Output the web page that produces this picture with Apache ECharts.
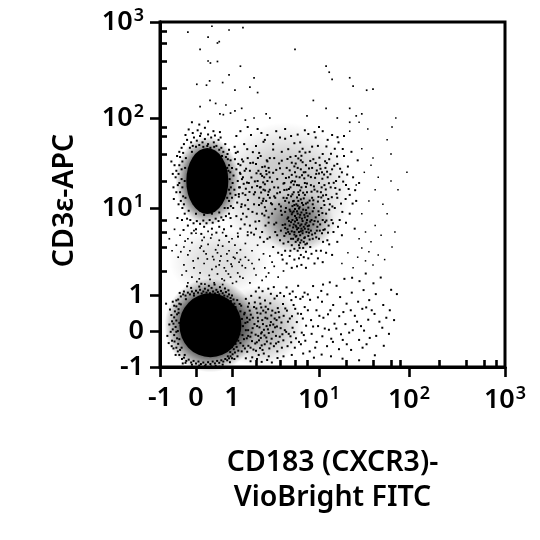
<!DOCTYPE html>
<html><head><meta charset="utf-8">
<style>html,body{margin:0;background:#fff}#c{width:540px;height:540px}</style>
<script src="https://cdn.jsdelivr.net/npm/echarts@6/dist/echarts.min.js"></script></head>
<body><div id="c"></div>
<script>
const xTitle = "CD183 (CXCR3)-\nVioBright FITC";
const yTitle = "CD3ε-APC";
const majorTicks = [-1,0,1,10,100,1000];
const minorTicks = [2,4,6,8,20,40,60,80,200,400,600,800];
const tickText = {"-1":"-1","0":"0","1":"1","10":"10{s|1}","100":"10{s|2}","1000":"10{s|3}"};
// biexponential axis: measured display units of each tick value
const scaleValues = [-1,0,1,2,4,6,8,10,20,40,60,80,100,200,400,600,800,1000];
const scaleUnits  = [0,36,72,96,120,135,147,159,186,213,231,240,249,279,306,324,336,345];

const lowerPeak = [[.36,.14]];
const upperPeak = [[.28,20]];
const midPeak = [[6.4,7.6]];
const broadPeak = [[4.6,16]];
const tailPeak = [[2.2,.12]];
const gapPeak = [[.6,2.6]];

const lowerEdge = [[-.45,.85],[-.38,.95],[-.32,1.02],[-.26,.98],[-.2,1.08],[-.15,1.02],[-.1,1.12],[-.05,1.05],[0,1.15],[.05,1.08],[.1,1.18],[.14,1.05],[.18,1.12],[.22,1.22],[.26,1.08],[.3,1.16],[.35,1.06],[.39,1.25],[.43,1.12],[.48,1.05],[.52,1.18],[.56,1.1],[.6,1.02],[.65,1.14],[.7,1.06],[.75,.98],[.8,1.1],[.85,.95],[.9,1.02],[.95,.9],[1,.98],[-.3,1.12],[-.12,1.25],[.08,1.3],[.32,1.33],[.62,1.28],[.88,1.16],[1.05,.85],[1.08,.72],[1.12,.62],[1.06,.55],[1.15,.48],[1.2,.38],[1.12,.3],[1.22,.22],[1.16,.14],[1.28,.06],[1.2,0],[1.26,-.08],[1.15,-.16],[1.22,-.24],[1.12,-.32],[1.16,-.4],[1.06,-.46],[1.1,-.55],[1.02,-.6],[.95,-.66],[1,-.72],[1.3,.5],[1.36,.3],[1.4,.12],[1.38,-.1],[1.3,-.3],[1.22,-.5],[1.45,.42],[1.5,.2],[1.44,-.2],[.9,-.72],[.84,-.78],[.78,-.74],[.72,-.82],[.66,-.78],[.6,-.86],[.54,-.8],[.48,-.88],[.42,-.82],[.36,-.9],[.3,-.84],[.24,-.92],[.18,-.85],[.12,-.9],[.06,-.82],[0,-.88],[-.06,-.8],[-.12,-.85],[-.18,-.76],[-.24,-.8],[-.3,-.7],[-.35,-.74],[.5,-.96],[.38,-.98],[.22,-.97],[.08,-.95],[-.1,-.92],[-.26,-.86],[.7,-.92],[-.42,-.62],[-.46,-.52],[-.4,-.48],[-.5,-.42],[-.45,-.32],[-.55,-.26],[-.48,-.18],[-.56,-.1],[-.5,-.02],[-.6,.04],[-.52,.1],[-.58,.18],[-.5,.26],[-.56,.34],[-.48,.42],[-.54,.5],[-.44,.56],[-.5,.64],[-.42,.72],[-.62,.24],[-.66,-.02],[-.64,.4],[-.62,-.24],[-.58,-.44],[-.56,.66],[-.5,.82],[-.7,.16],[-.72,-.3],[-.68,.55],[-.8,.72],[-.76,-.12],[.96,.8],[1.02,.68],[.98,.5],[1.04,.36],[1,.2],[1.06,.08],[1.02,-.08],[1.04,-.24],[1,-.4],[.94,-.54],[.86,-.66],[-.38,.7],[-.44,.46],[-.42,.2],[-.46,0],[-.42,-.2],[-.36,-.42],[-.28,-.62],[.25,1],[.55,.98],[-.05,.98],[-.25,.86],[1.33,.66],[1.52,.02],[1.41,-.37],[1.27,.71],[1.18,.83],[1.35,-.52],[1.19,-.66],[.13,1.41],[.47,1.38],[-.22,1.31],[.77,1.23],[-.41,1.07],[-.6,.78],[-.63,-.38],[-.52,-.62],[-.33,-.88],[.61,-.99],[.93,-.84],[1.08,-.74],[1.57,.33],[1.62,-.12],[1.48,-.44]];

const upperEdge = [[-.3,50],[-.22,55],[-.12,52],[-.05,58],[.02,54],[.1,60],[.16,52],[.22,56],[.3,50],[.38,58],[.45,52],[.52,48],[.58,55],[.66,46],[-.15,46],[-.08,48],[0,47],[.08,49],[.18,47],[.28,48],[.36,46],[.46,47],[.6,44],[.72,42],[.8,37],[.85,40],[.95,34],[.9,30],[1,28],[.94,25],[1.05,23],[.92,21],[1.02,19],[.96,17],[1.08,16],[.94,14.5],[1,13],[.9,12],[.96,10.5],[.86,10],[.9,9],[.8,8.6],[.72,8],[.66,8.4],[.58,7.8],[.5,8.2],[.42,7.5],[.34,8],[.26,7.4],[.18,7.9],[.1,7.3],[.02,7.8],[-.06,7.4],[-.14,8],[-.22,8.2],[-.28,9],[-.34,10],[-.3,11],[-.38,12],[-.32,13.5],[-.4,15],[-.34,17],[-.42,19],[-.36,21],[-.44,24],[-.36,27],[-.42,30],[-.34,33],[-.4,37],[-.32,41],[-.36,46],[-.5,15],[-.52,22],[-.55,30],[-.48,38],[-.46,18],[-.5,26],[-.6,24],[-.58,17],[-.44,11],[-.42,42],[-.26,62],[-.08,66],[.12,65],[.3,63],[.48,61],[.64,58],[.78,50],[.9,44],[1.1,35],[1.15,27],[1.2,20],[1.12,14],[1.04,10],[.95,8.3],[.6,6.8],[.4,6.5],[.2,6.8],[0,6.4],[-.2,7],[-.35,8],[1.22,31],[1.3,24],[1.28,17],[1.18,11.5],[.74,6.4],[.86,35],[.88,26],[.9,16],[.84,13],[.76,10],[.6,9.2],[.4,9],[.2,8.8],[0,9],[-.18,9.5],[-.26,13],[-.28,20],[-.27,28],[-.25,36],[-.1,42],[.5,41],[.68,38],[.82,22],[.84,28],[.04,72],[.22,78],[.44,70],[-.18,74],[.62,68],[.08,85],[.3,92],[-.1,90],[1.13,41],[1.24,14.3],[1.36,21],[1.41,33],[1.09,47],[-.64,33],[-.57,12.6],[-.47,8.3],[.97,6.9],[1.15,8.6],[.13,5.7],[.52,5.9],[-.11,5.8],[-.31,6.3],[.81,5.4],[1.33,10.3],[1.47,26],[1.52,16.4]];

const midCloud = [[3.2,9],[3.6,7.5],[3.9,11],[4.1,6.2],[4.2,8.8],[4.4,13],[4.5,5.4],[4.6,7.2],[4.7,10],[4.8,16],[4.9,6.4],[5,4.6],[5,8.4],[5.1,11.5],[5.2,5.7],[5.2,7],[5.3,9.4],[5.4,13.5],[5.5,4.2],[5.5,6.1],[5.6,8],[5.6,10.5],[5.7,5],[5.8,7.2],[5.8,12],[5.9,3.8],[5.9,6],[6,8.6],[6,9.8],[6.1,4.6],[6.1,7],[6.2,5.4],[6.2,11],[6.3,6.4],[6.3,8],[6.4,3.6],[6.4,9],[6.5,5],[6.5,7.4],[6.5,15],[6.6,4.2],[6.6,6],[6.7,8.4],[6.7,10.2],[6.8,5.5],[6.8,7],[6.9,3.2],[6.9,12.5],[7,4.8],[7,6.5],[7,9.2],[7.2,5.8],[7.2,7.8],[7.3,3.9],[7.3,10.8],[7.4,4.6],[7.4,6.8],[7.5,8.8],[7.6,5.2],[7.6,14],[7.7,7.2],[7.8,3.5],[7.8,9.6],[7.9,6],[8,4.4],[8,8],[8.1,11.5],[8.2,5.4],[8.3,7],[8.4,9],[8.5,4],[8.6,6.2],[8.7,8],[8.8,13],[8.9,5],[9,7.2],[9.1,10],[9.3,5.8],[9.4,8.4],[9.5,3.6],[9.7,6.8],[9.8,11.8],[10,5],[10,8.8],[10.3,7.2],[10.6,10],[10.8,5.8],[11,8],[11.3,12],[11.6,6.4],[12,9],[12.4,4.8],[12.8,7],[13.2,11],[13.8,8],[14.5,6],[15,10],[16,13],[17,8],[3,13],[3.4,17],[3.7,21],[4,15],[4.3,24],[4.5,19],[4.8,28],[5,14],[5.1,22],[5.3,17],[5.5,32],[5.6,20],[5.8,15],[6,25],[6.1,38],[6.3,18],[6.4,28],[6.6,14],[6.7,22],[6.9,34],[7,17],[7.2,45],[7.4,25],[7.6,19],[7.8,30],[8,15],[8.2,23],[8.4,42],[8.6,18],[8.8,28],[9,35],[9.2,16],[9.5,24],[9.8,48],[10,19],[10.2,30],[10.5,15],[10.8,25],[11,40],[11.5,18],[11.8,28],[12,14],[12.5,22],[13,35],[13.5,17],[14,27],[15,45],[15.5,20],[16,31],[17,16],[18,25],[19,38],[20,18],[21,29],[22,14],[24,22],[26,12],[28,19],[3,5.2],[3.3,4],[3.5,6],[3.8,3.4],[4,4.8],[4.3,2.8],[4.6,3.6],[4.8,2.5],[5.2,3.1],[5.5,2.2],[5.9,2.8],[6.3,2.3],[6.6,2.9],[7,2.4],[7.4,3],[7.8,2.2],[8.2,2.9],[8.7,3.3],[9.2,2.5],[9.8,2.9],[10.5,3.6],[11,2.6],[12,3.4],[13,4.3],[14,3.2],[16,4.6],[18,5.5],[20,7.5],[22,9],[25,6.5],[5.4,60],[6.8,52],[8.2,64],[9.4,58],[11,70],[12.5,55],[14,62],[16.5,52],[4.2,42],[3.4,36],[2.9,28],[19,60],[7.6,72],[10,80],[23,42],[27,34],[5.6,9.2],[6.2,6.8],[6.8,8.8],[7.2,6.2],[7.6,8.4],[8.2,6.4],[5.4,7.6],[5,6],[6.4,4.8],[7.1,11.4],[8.9,9.4],[9.6,6.2],[4.6,12],[5.9,10.8],[6.5,12],[7.8,11.2]];

const midExtra = [[4.3,7.1],[8.7,15.2],[2.6,18.4],[6.1,31.3],[11.2,6.3],[3.3,24.7],[5.7,11.9],[14.6,19.1],[7.9,9.1],[2.2,41],[9.3,21.7],[4.9,35.2],[12.7,12.6],[3.1,11.3],[6.6,17.9],[10.4,27.4],[5.2,26.3],[8.1,6.9],[2.8,33.1],[15.7,14.4],[4.4,18.7],[7.3,14.8],[13.4,23.8],[3.7,14.6],[9.9,13.3],[6,19.8],[5.1,16.3],[11.9,16.1],[2.4,22.8],[7.7,25.1],[4,27.8],[16.8,22.3],[8.4,12.1],[3.5,9.8],[6.9,27],[10.9,21.2],[5.5,23.4],[12.2,31.7],[2.9,15.2],[9.1,17.4],[4.7,21.6],[7,38.2],[13.9,13.2],[3.9,31.4],[8.5,33.5],[6.3,13.1],[11.1,13.8],[5,44.6],[2.5,12.7],[10.1,36.4],[4.1,10.4],[7.5,21.4],[14.8,29.6],[3.2,19.6],[9.6,26.2],[5.9,29.1],[12.9,18.9],[8,18.7],[6.7,42.1],[4.5,15.9],[3.6,26.6],[17.6,11.2],[10.7,17],[5.3,37.1],[7.1,23.2],[2.7,25.9],[9.4,31.8],[11.5,10.8],[6.2,22.4],[4.8,12.9],[8.3,27.6],[13,9.7],[3.4,13.5],[5.8,18.2],[15.2,16.7],[7.4,12.8],[10,24.2],[6.5,35.7],[4.2,33.7],[12.3,25.4],[8.9,11],[2.3,17.1],[9.7,15.3],[5.6,14.2],[7.8,17.2],[3,21.9],[11.4,23.6],[6.8,15.7],[4.6,9.3],[14.1,10.4],[8.6,22.1],[5.4,19.3],[10.6,13.1],[3.8,16.9],[7.2,32.4],[9,12.2],[6.4,10.6],[12.1,7.9],[4.9,8.2],[8.2,10.1],[5.2,9.7],[6.1,5.3],[7.1,8.2],[9.2,7.8],[4.7,5.8],[5.7,6.7],[8.4,4.9],[6.7,3.9],[7.5,5.1],[10.2,6.2],[4.4,4.4],[5.3,3.6],[6,7.7],[8.8,5.6],[7.9,7.5],[5.5,8.9],[6.6,9.9],[9.9,9.4],[11.7,7.6],[3.7,5.5],[4.2,3.2],[7.7,4.3],[6.9,6.1],[5.1,7.8],[8.1,8.6],[9.5,5.2],[6.2,8.3],[7.3,9.7],[5.9,5.6],[6.5,6.6],[8.5,7.7],[10.9,9.1],[4.6,6.6],[7,7.2],[5.8,9.4],[7.6,6.5],[6.3,9.4],[9.8,7.7],[5.4,5],[6.8,4.5],[8.3,5.9],[4.1,9.5],[12.6,5.9],[3.4,7.2],[14.3,7.4],[11.1,4.6],[2.9,8.4],[2.6,10.2],[18.2,9.3],[16.3,6.8],[19.8,12.6],[21.4,16.3],[23.7,11.2],[18.6,19.7],[25.3,15.8],[17.2,27.4],[20.6,23.6],[13.6,40.2],[11.7,33.2],[15.9,37.6],[8.8,47.2],[5.9,51],[7.7,41.3],[3.3,44.2],[2.5,52.6],[4.6,56.4],[6.4,62.8],[9.2,68],[12.1,47.4],[16.1,58.4],[18.4,44.8]];

const bridge = [[1.2,42],[1.3,30],[1.4,22],[1.5,14],[1.6,36],[1.7,26],[1.8,17],[1.9,11],[2,48],[2,31],[2.1,20],[2.2,13],[2.3,38],[2.3,24],[2.4,9],[2.5,16],[2.6,29],[2.6,55],[2.7,12],[2.8,20],[2.9,7.5],[3,36],[3,16],[1.25,17],[1.35,11],[1.45,50],[1.55,8.5],[1.65,19],[1.75,62],[1.85,32],[1.95,15],[2.05,9],[2.15,26],[2.25,17],[2.35,66],[2.45,12],[2.55,22],[2.65,7],[2.75,34],[2.85,14],[2.95,25],[1.15,60],[1.3,70],[1.6,80],[2.1,75],[2.8,62],[3.3,50],[3.6,70],[4,58],[4.6,75],[1.4,9],[1.7,7],[2,6.5],[2.4,6],[2.8,5],[1.3,6.5],[1.6,5.5],[3.2,11],[3.5,13],[2.7,9.5],[2.2,7.8],[1.9,5.6],[1.43,18.6],[1.61,12.3],[1.28,24.7],[1.77,21.9],[1.53,27.4],[1.89,14.2],[1.36,34.8],[2.07,17.6],[1.68,15.1],[1.49,10.7],[1.82,9.3],[2.19,10.8],[1.72,31.7],[2.03,24.4],[1.57,19.2],[1.94,19.8],[2.33,14.9],[1.39,14.6],[1.24,13.4],[2.12,36.1],[1.58,44.6],[1.84,41.7],[2.41,28.6],[2.48,19.3],[2.62,15.7],[2.73,23.8],[2.36,11.3],[2.57,8.7],[1.33,8.1],[1.63,9.8],[1.97,7.7],[2.26,5.2],[1.47,7.2],[1.76,5.9],[1.21,5.3],[2.52,4.6]];

const between = [[-.4,5.5],[-.2,5],[0,5.8],[.2,5.2],[.4,5.6],[.6,4.8],[.8,5.4],[1,5],[-.5,4.2],[-.3,4],[-.1,4.5],[.1,3.9],[.3,4.3],[.5,3.7],[.7,4.1],[.9,3.6],[1.1,4.2],[1.3,3.7],[1.5,4.4],[-.45,3],[-.2,3.2],[.05,2.9],[.25,3.3],[.45,2.8],[.65,3.1],[.85,2.7],[1.05,3],[1.25,2.6],[1.5,3],[1.8,3.6],[2.1,4.2],[2.5,3.3],[-.3,2.4],[-.05,2.2],[.2,2.5],[.4,2.1],[.6,2.4],[.8,2],[1,2.3],[1.2,1.9],[1.5,2.2],[1.8,2.5],[2.2,2.8],[2.6,2.2],[3,3.1],[-.35,1.8],[-.1,1.7],[.1,1.9],[.35,1.6],[.55,1.85],[.75,1.55],[.95,1.7],[1.15,1.5],[1.4,1.65],[1.7,1.45],[2,1.8],[2.4,1.55],[2.9,1.9],[3.4,2.3],[3.8,1.7],[4.4,2],[-.2,1.45],[.02,1.5],[.22,1.4],[.46,1.45],[.7,1.38],[-.05,6.2],[.3,6.1],[.7,5.9],[-.55,6.4],[-.7,5],[-.62,3.6],[1.2,5.8],[1.6,6],[1.1,2.9],[.55,3.4],[.15,4.8],[-.15,3.6],[.75,2.2],[1.3,2.8],[3.2,2.6],[.9,4.6],[.13,4.1],[.37,5.1],[-.27,4.7],[.57,4.2],[.83,3.3],[-.07,2.7],[.28,2.85],[.62,2.7],[1.17,3.4],[.97,2.45],[-.38,3.5],[.19,3.55],[.42,3.05],[1.37,2.35],[1.64,2.75],[.08,1.62],[.51,2.28],[-.24,2],[.88,1.85],[1.02,1.43],[1.28,1.72],[1.9,2.15],[2.7,1.72],[.33,1.78],[.68,1.62]];

const tail = [[1.52,.87],[1.61,.63],[1.74,.41],[1.69,.28],[1.83,.07],[1.72,-.14],[1.63,-.37],[1.58,-.53],[1.94,.76],[2.02,.58],[2.11,.33],[2.07,.12],[1.98,-.09],[2.05,-.28],[1.87,-.47],[1.81,-.69],[2.23,.91],[2.34,.61],[2.29,.44],[2.46,.17],[2.38,-.03],[2.31,-.17],[2.26,-.43],[2.17,-.62],[2.61,.82],[2.67,.47],[2.79,.31],[2.84,.04],[2.71,-.16],[2.59,-.33],[2.52,-.58],[3.04,.73],[3.13,.39],[3.09,.22],[3.27,-.02],[3.16,-.19],[2.96,-.44],[2.91,-.66],[3.43,.88],[3.52,.46],[3.63,.27],[3.48,.09],[3.57,-.12],[3.37,-.38],[3.76,.59],[3.92,.34],[4.07,.07],[3.97,-.14],[3.83,-.27],[3.71,-.52],[4.34,.71],[4.42,.38],[4.56,.02],[4.38,-.23],[4.21,-.42],[4.83,.52],[4.96,.23],[5.07,-.07],[4.91,-.38],[5.44,.83],[5.53,.37],[5.62,.08],[5.41,-.28],[6.03,.57],[6.27,.22],[6.14,-.18],[5.97,-.42],[6.82,.87],[6.94,.43],[7.06,-.04],[6.91,-.33],[7.57,.62],[7.83,.13],[7.68,-.24],[8.47,.84],[8.63,.27],[8.72,-.07],[8.41,-.52],[9.54,.53],[9.83,.12],[9.57,-.27],[10.8,.78],[11.2,.33],[10.9,-.13],[10.7,-.61],[12.4,1.02],[12.6,.42],[12.9,.03],[12.3,-.38],[14.4,.68],[14.9,.18],[14.3,-.27],[17.2,.93],[16.8,.37],[17.6,-.08],[16.7,-.46],[20.3,.72],[19.7,.17],[20.4,-.33],[23.2,1.08],[22.6,.53],[23.8,.02],[22.8,-.48],[27.3,.78],[26.6,.23],[28,-.22],[31.4,1.17],[30.4,.57],[31.8,.01],[30.6,-.42],[36.3,.83],[35.4,.28],[36.8,-.17],[42.6,1.03],[41.4,.43],[43,-.12],[41.7,-.63],[50.4,.68],[49.3,.08],[51,-.37],[58.4,.53],[57.3,-.07],[66.2,.27],[2.43,1.13],[2.87,1.22],[3.36,1.28],[4.03,1.07],[4.78,1.27],[5.64,1.12],[6.47,1.33],[7.54,1.08],[8.96,1.32],[11.1,1.38],[13.2,1.47],[15.7,1.33],[19.2,1.62],[23.4,1.67],[28.3,1.52],[33.2,1.87],[40.4,1.43],[47.6,1.68],[60.3,1.18],[72.4,1.03]];

const tailExtra = [[1.66,.73],[1.47,.46],[1.92,.17],[2.19,-.23],[1.78,-.04],[2.08,.46],[2.41,.27],[1.56,-.18],[2.28,.72],[1.9,.62],[1.73,-.42],[2.53,.03],[1.59,.22],[2.14,-.12],[2.64,.33],[1.84,.33],[2.37,-.36],[2,-.5],[1.69,.52],[2.76,-.26],[2.22,.09],[3.02,.14],[2.48,.52],[1.96,-.31],[2.86,.56],[2.57,-.11],[3.22,.52],[3.31,.16],[2.73,.12],[3.58,-.31],[2.43,-.48],[1.62,.02],[1.8,-.25],[2.13,.24],[2.33,-.06],[2.66,.63],[2.91,-.05],[3.07,-.31],[3.67,.11],[3.86,.48],[4.16,.21],[4.27,-.08],[3.44,.31],[4.62,.58],[4.73,-.02],[5.22,.31],[5.31,-.13],[5.78,.68],[5.87,-.03],[6.42,.44],[6.61,-.27],[7.24,.31],[7.41,-.1],[8.13,.53],[8.96,.11],[9.32,-.42],[10.1,.38],[11.6,.06],[13.4,.53],[13.7,-.19],[15.6,.06],[18.7,.48],[18.4,-.22],[21.7,-.04],[25.1,.38],[29.4,.12],[33.6,.61],[33.9,-.33],[38.7,.53],[46.2,.23],[54,.33],[1.76,.97],[1.99,1.12],[2.18,1.26],[3.09,1.04],[3.67,.97],[4.46,.96],[5.21,1.04],[6.12,.93],[7.23,.94],[8.12,1.02],[9.8,.92],[10.6,1.14],[1.52,-.72],[1.73,-.81],[2.06,-.74],[2.37,-.83],[2.78,-.77],[3.18,-.85],[3.73,-.71],[4.4,-.66],[5.5,-.62],[7.3,-.58],[9.1,-.7],[13.6,-.66],[18.3,-.73],[28,-.78]];

const sparseRight = [[18,2.5],[21,3.4],[24,2.2],[27,3],[30,3.9],[33,2.7],[36,3.5],[40,2.4],[45,3.2],[52,2.8],[28,5],[33,6],[38,4.6],[42,7],[48,5.5],[55,9],[62,4],[68,6],[30,9],[36,12],[42,16],[50,11],[60,20],[75,16],[95,25],[26,18],[32,25],[38,30],[45,22],[30,45],[40,36],[55,55],[70,100],[22,70],[28,90],[35,75]];

const topSparse = [[-.2,780],[.4,900],[.9,820],[1.4,870],[.3,690],[.55,600],[.6,620],[.1,520],[.3,400],[.36,380],[.55,395],[1.3,350],[1.9,260],[.9,280],[.02,220],[.26,215],[.34,240],[.7,230],[1.1,190],[1.7,205],[2.1,180],[.35,150],[.5,140],[.8,135],[1.1,118],[1.35,125],[.1,130],[.62,110],[.72,108],[.95,112],[1.5,95],[1.9,100],[2.7,110],[3,100],[6,520],[12,350],[13,300],[14,250],[22,260],[22,125],[24,210],[34,190],[40,195],[9,150],[12,125],[8,105],[16,100],[22,90],[26,105],[30,110],[60,40],[62,80]];

const toUnits = v => {
  let i = 0;
  while (i < scaleValues.length - 2 && v > scaleValues[i + 1]) i++;
  const a = Math.asinh(scaleValues[i]), b = Math.asinh(scaleValues[i + 1]);
  return scaleUnits[i] + (Math.asinh(v) - a) / (b - a) * (scaleUnits[i + 1] - scaleUnits[i]);
};
const pts = list => list.map(p => [toUnits(p[0]), toUnits(p[1])]);
const soft = (alpha, hold) => ({type:'radial',x:.5,y:.5,r:.5,colorStops:[{offset:0,color:`rgba(0,0,0,${alpha})`},{offset:hold,color:`rgba(0,0,0,${alpha})`},{offset:1,color:'rgba(0,0,0,0)'}]});
const blob = (data, size, color, z) => ({type:'scatter',data:pts(data),symbol:'circle',symbolSize:size,silent:true,z,itemStyle:{color,opacity:1}});
const dots = (list, size) => ({type:'scatter',data:pts(list),symbol:'rect',symbolSize:size,silent:true,z:5,itemStyle:{color:'#000',opacity:1}});

const font = '"Noto Sans"';
const ticks = (vals, len) => ({show:true,length:len,customValues:vals.map(toUnits),lineStyle:{color:'#000',width:2.6}});
const baseAxis = {type:'value',min:0,max:345,splitLine:{show:false},axisLine:{show:true,lineStyle:{color:'#000',width:3}}};
const labelOf = u => { const i = majorTicks.findIndex(v => Math.abs(toUnits(v) - u) < .01); return tickText[majorTicks[i]]; };
const label = margin => ({show:true,customValues:majorTicks.map(toUnits),margin,formatter:labelOf,color:'#000',
  fontFamily:font,fontWeight:600,fontSize:27,rich:{s:{fontFamily:font,fontWeight:600,fontSize:18,verticalAlign:'top',padding:[0,0,12,1],color:'#000'}}});
const name = {color:'#000',fontFamily:font,fontWeight:600,fontSize:28.5,lineHeight:35};

const chart = echarts.init(document.getElementById('c'),null,{renderer:'canvas'});
chart.setOption({animation:false,backgroundColor:'#fff',
  grid:{left:160,top:22,width:345,height:345,show:true,borderColor:'#000',borderWidth:3,backgroundColor:'#fff'},
  xAxis:[
    {...baseAxis,axisTick:ticks(majorTicks,10),axisLabel:label(18),name:xTitle,nameLocation:'middle',nameGap:78,nameTextStyle:name},
    {...baseAxis,axisTick:ticks(minorTicks,7),axisLabel:{show:false}}],
  yAxis:[
    {...baseAxis,axisTick:ticks(majorTicks,10),axisLabel:label(16),name:yTitle,nameLocation:'middle',nameGap:78,nameTextStyle:{...name,padding:[0,12,0,0]}},
    {...baseAxis,axisTick:ticks(minorTicks,7),axisLabel:{show:false}}],
  series:[
    blob(gapPeak,[100,70],soft(.12,.4),1),
    blob(broadPeak,[135,135],soft(.2,.45),1),
    blob(tailPeak,[90,80],soft(.3,.35),1),
    blob(lowerPeak,[92,94],soft(.6,.65),2),
    blob(upperPeak,[64,90],soft(.55,.65),2),
    blob(midPeak,[74,60],soft(.42,.35),2),
    blob(lowerPeak,[62,64],'#000',3),
    blob(upperPeak,[42,66],'#000',3),
    dots(lowerEdge,2),dots(upperEdge,2),dots(midCloud,2),dots(midExtra,2),dots(bridge,2),dots(between,1.7),dots(tail,2),dots(tailExtra,2),dots(sparseRight,1.5),dots(topSparse,1.7)
  ]});
</script></body></html>
